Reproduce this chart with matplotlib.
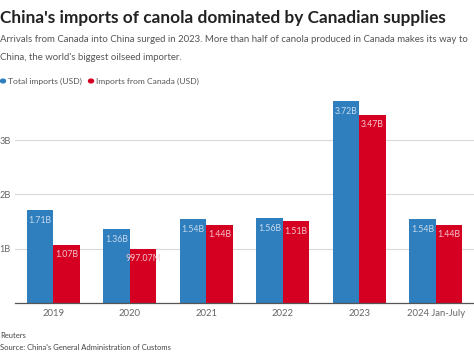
import matplotlib
matplotlib.use("Agg")
import matplotlib.pyplot as plt
import numpy as np

categories = ["2019", "2020", "2021", "2022", "2023", "2024 Jan-July"]
total_imports = [1.71, 1.36, 1.54, 1.56, 3.72, 1.54]
canada_imports = [1.07, 0.99707, 1.44, 1.51, 3.47, 1.44]
total_labels = ["1.71B", "1.36B", "1.54B", "1.56B", "3.72B", "1.54B"]
canada_labels = ["1.07B", "997.07M", "1.44B", "1.51B", "3.47B", "1.44B"]
yticks = [1, 2, 3]
ytick_labels = ["1B", "2B", "3B"]

BLUE = "#2f7ebd"
RED = "#d50021"
FONT = "Lato"
plt.rcParams['font.family'] = [FONT, 'DejaVu Sans']

W, H = 474, 355
fig = plt.figure(figsize=(W/100, H/100), dpi=100)
base_y = 303
per_b = 54.3
ymax = 3.75
top_y = base_y - ymax*per_b
ax = fig.add_axes([15/W, (H-base_y)/H, (W-15)/W, (base_y-top_y)/H])

x = np.arange(len(categories))
w = 0.345
ax.bar(x - w/2, total_imports, w, color=BLUE, zorder=2)
ax.bar(x + w/2, canada_imports, w, color=RED, zorder=2)
for i in range(len(categories)):
    ax.annotate(total_labels[i], (x[i]-w/2, total_imports[i]), xytext=(0, -4),
                textcoords="offset points", ha="center", va="top",
                fontsize=6.3, color="#c8dcef", zorder=3)
    ax.annotate(canada_labels[i], (x[i]+w/2, canada_imports[i]), xytext=(0, -4),
                textcoords="offset points", ha="center", va="top",
                fontsize=6.3, color="#f5c8cf", zorder=3)

ax.set_xlim(-0.5, len(categories)-0.5)
ax.set_ylim(0, ymax)
ax.set_yticks(yticks)
ax.set_yticklabels(ytick_labels)
ax.set_xticks(x)
ax.set_xticklabels(categories)
ax.grid(axis="y", color="#d9d9d9", linewidth=0.8, zorder=0)
for s in ["top", "right", "left"]:
    ax.spines[s].set_visible(False)
ax.spines["bottom"].set_color("#555555")
ax.spines["bottom"].set_linewidth(0.9)
ax.tick_params(axis="y", length=0, pad=3, labelsize=6.6, labelcolor="#666666")
ax.tick_params(axis="x", length=0, pad=4, labelsize=6.8, labelcolor="#666666")

fig.text(0, 1-18/H, "China's imports of canola dominated by Canadian supplies",
         fontsize=12.4, fontweight="bold", color="#222222", va="center", ha="left")
fig.text(0, 1-40/H, "Arrivals from Canada into China surged in 2023. More than half of canola produced in Canada makes its way to",
         fontsize=6.95, color="#555555", va="center", ha="left")
fig.text(0, 1-57/H, "China, the world's biggest oilseed importer.",
         fontsize=6.95, color="#555555", va="center", ha="left")

ly = 1-81/H
fig.patches.append(plt.Circle((3/W, ly), 2.5/W, transform=fig.transFigure, color=BLUE))
fig.text(8/W, ly, "Total imports (USD)", fontsize=6.1, color="#555555", va="center", ha="left")
fig.patches.append(plt.Circle((91/W, ly), 2.5/W, transform=fig.transFigure, color=RED))
fig.text(96/W, ly, "Imports from Canada (USD)", fontsize=6.1, color="#555555", va="center", ha="left")

fig.text(0, 1-336/H, "Reuters", fontsize=5.5, color="#444444", va="center", ha="left")
fig.text(0, 1-348/H, "Source: China's General Administration of Customs", fontsize=5.5,
         color="#444444", va="center", ha="left")

fig.savefig("out.png", dpi=100)
